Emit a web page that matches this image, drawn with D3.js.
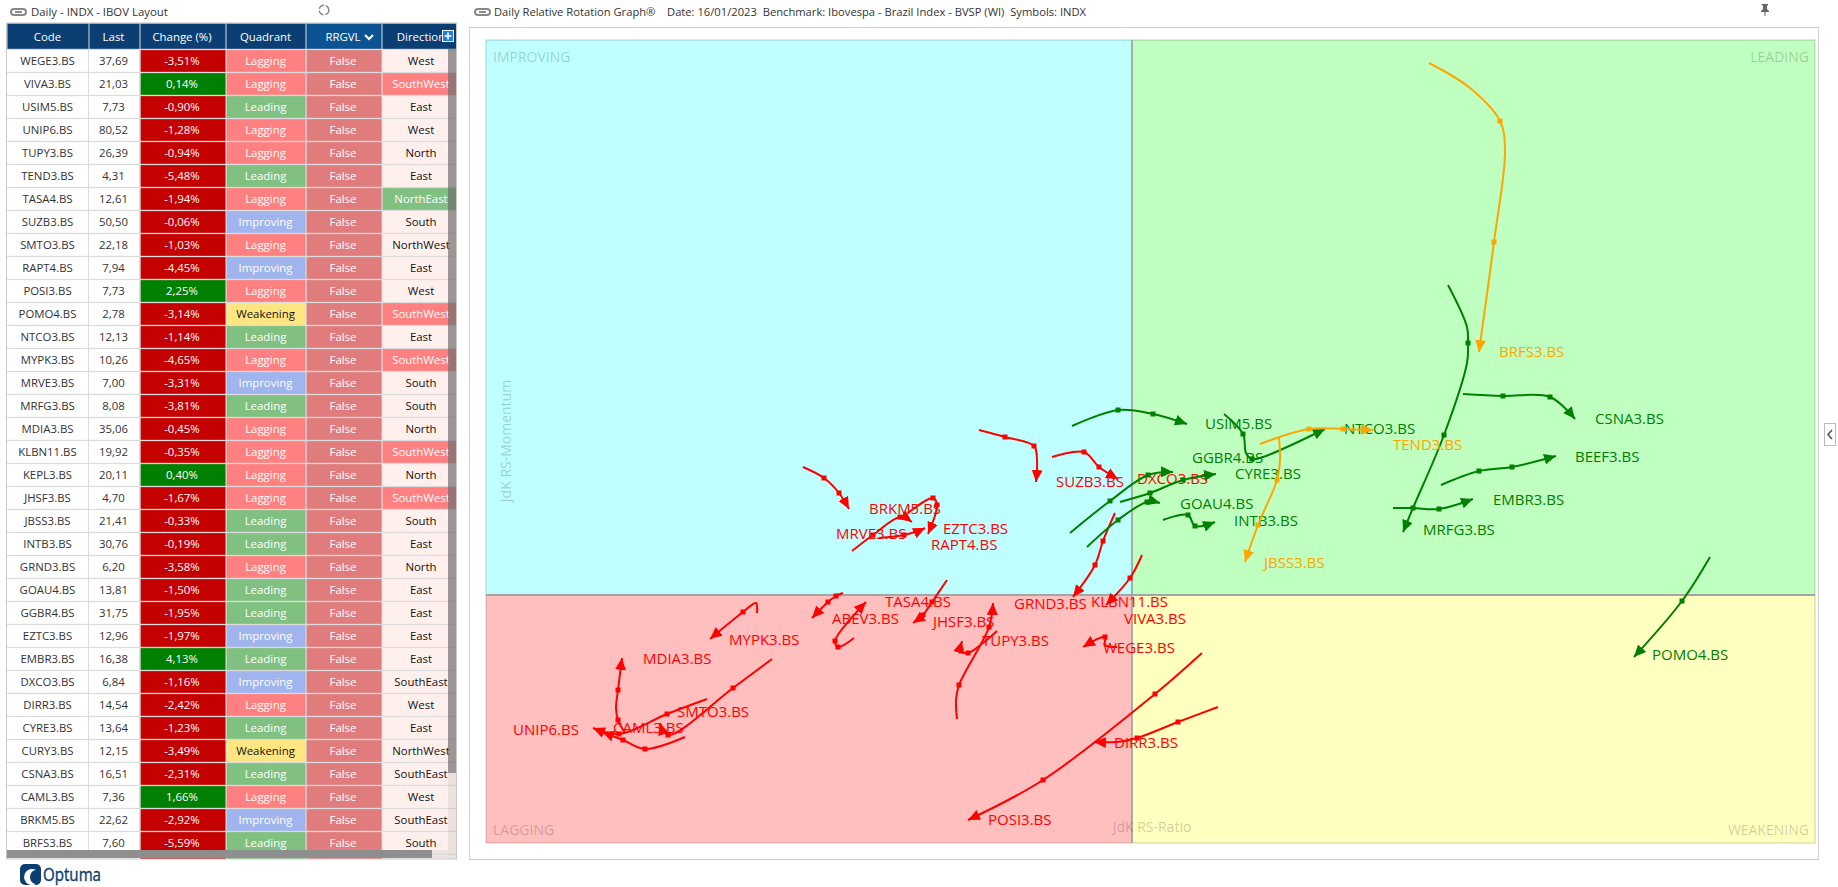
<!DOCTYPE html>
<html>
<head>
<meta charset="utf-8">
<title>Daily Relative Rotation Graph</title>
<script src="https://cdnjs.cloudflare.com/ajax/libs/d3/7.8.5/d3.min.js"></script>
<style>
  html, body { margin: 0; padding: 0; background: #fff; overflow: hidden; }
  svg { display: block; }
  text { font-family: "Open Sans", sans-serif; }
</style>
</head>
<body>
<div id="chart"></div>
<script>
// table columns
const columns = ["Code", "Last", "Change (%)", "Quadrant", "RRGVL", "Direction"];
const codes = ["WEGE3.BS", "VIVA3.BS", "USIM5.BS", "UNIP6.BS", "TUPY3.BS", "TEND3.BS", "TASA4.BS", "SUZB3.BS", "SMTO3.BS", "RAPT4.BS", "POSI3.BS", "POMO4.BS", "NTCO3.BS", "MYPK3.BS", "MRVE3.BS", "MRFG3.BS", "MDIA3.BS", "KLBN11.BS", "KEPL3.BS", "JHSF3.BS", "JBSS3.BS", "INTB3.BS", "GRND3.BS", "GOAU4.BS", "GGBR4.BS", "EZTC3.BS", "EMBR3.BS", "DXCO3.BS", "DIRR3.BS", "CYRE3.BS", "CURY3.BS", "CSNA3.BS", "CAML3.BS", "BRKM5.BS", "BRFS3.BS"];
const lasts = ["37,69", "21,03", "7,73", "80,52", "26,39", "4,31", "12,61", "50,50", "22,18", "7,94", "7,73", "2,78", "12,13", "10,26", "7,00", "8,08", "35,06", "19,92", "20,11", "4,70", "21,41", "30,76", "6,20", "13,81", "31,75", "12,96", "16,38", "6,84", "14,54", "13,64", "12,15", "16,51", "7,36", "22,62", "7,60"];
const changes = ["-3,51%", "0,14%", "-0,90%", "-1,28%", "-0,94%", "-5,48%", "-1,94%", "-0,06%", "-1,03%", "-4,45%", "2,25%", "-3,14%", "-1,14%", "-4,65%", "-3,31%", "-3,81%", "-0,45%", "-0,35%", "0,40%", "-1,67%", "-0,33%", "-0,19%", "-3,58%", "-1,50%", "-1,95%", "-1,97%", "4,13%", "-1,16%", "-2,42%", "-1,23%", "-3,49%", "-2,31%", "1,66%", "-2,92%", "-5,59%"];
const quadrants = ["Lagging", "Lagging", "Leading", "Lagging", "Lagging", "Leading", "Lagging", "Improving", "Lagging", "Improving", "Lagging", "Weakening", "Leading", "Lagging", "Improving", "Leading", "Lagging", "Lagging", "Lagging", "Lagging", "Leading", "Leading", "Lagging", "Leading", "Leading", "Improving", "Leading", "Improving", "Lagging", "Leading", "Weakening", "Leading", "Lagging", "Improving", "Leading"];
const directions = ["West", "SouthWest", "East", "West", "North", "East", "NorthEast", "South", "NorthWest", "East", "West", "SouthWest", "East", "SouthWest", "South", "South", "North", "SouthWest", "North", "SouthWest", "South", "East", "North", "East", "East", "East", "East", "SouthEast", "West", "East", "NorthWest", "SouthEast", "West", "SouthEast", "South"];

// rotation tails: [RS-Ratio, RS-Momentum, 1 when the point carries a marker]
const tailWEGE3 = [[99.85, 99.48], [99.73, 99.50], [99.73, 99.58, 1], [99.51, 99.48]];
const tailVIVA3 = [[100.10, 100.40], [99.98, 100.17, 1], [99.74, 99.90]];
const tailUSIM5 = [[99.40, 101.69], [99.86, 101.85, 1], [100.21, 101.81, 1], [100.55, 101.71]];
const tailUNIP6 = [[95.75, 98.96], [95.35, 98.81, 1], [94.87, 98.61, 1], [94.61, 98.67]];
const tailTUPY3 = [[98.65, 99.64], [98.51, 99.52], [98.36, 99.42, 1], [98.29, 99.44, 1], [98.30, 99.54]];
const tailTEND3 = [[101.28, 101.51], [101.77, 101.66, 1], [102.11, 101.66, 1], [102.41, 101.65]];
const tailTASA4 = [[97.22, 99.57], [97.06, 99.48, 1], [97.03, 99.54, 1], [97.34, 99.93]];
const tailSUZB3 = [[98.47, 101.65], [98.73, 101.58, 1], [99.02, 101.49, 1], [99.05, 101.35], [99.04, 101.13]];
const tailSMTO3 = [[96.40, 99.36], [96.01, 99.07, 1], [95.36, 98.60, 1], [95.28, 98.72]];
const tailRAPT4 = [[97.47, 100.57], [97.72, 100.60, 1], [97.86, 100.64, 1], [97.93, 100.67]];
const tailPOSI3 = [[100.70, 99.42], [100.23, 99.01, 1], [99.11, 98.15, 1], [98.36, 97.75]];
const tailPOMO4 = [[105.78, 100.38], [105.50, 99.94, 1], [105.02, 99.38]];
const tailNTCO3 = [[100.92, 101.81], [101.11, 101.61, 1], [101.14, 101.42], [101.20, 101.36, 1], [101.31, 101.38], [101.93, 101.66]];
const tailMYPK3 = [[96.25, 99.82], [96.24, 99.92], [96.11, 99.83, 1], [95.78, 99.56]];
const tailMRVE3 = [[96.71, 101.28], [96.92, 101.17, 1], [97.07, 101.02, 1], [97.17, 100.86]];
const tailMRFG3 = [[103.16, 103.10], [103.35, 102.68], [103.36, 102.52, 1], [103.35, 102.32], [103.12, 101.60, 1], [102.81, 100.87], [102.71, 100.63]];
const tailMDIA3 = [[94.93, 98.62], [94.86, 98.75, 1], [94.84, 98.87], [94.86, 99.05, 1], [94.90, 99.37]];
const tailKLBN11 = [[99.83, 100.82], [99.71, 100.54, 1], [99.63, 100.30, 1], [99.41, 99.98]];
const tailJHSF3 = [[98.15, 100.15], [98.00, 99.93, 1], [97.91, 99.80, 1], [97.81, 99.72]];
const tailJBSS3 = [[101.47, 101.57], [101.48, 101.35], [101.45, 101.15, 1], [101.26, 100.70, 1], [101.13, 100.33]];
const tailINTB3 = [[100.31, 100.75], [100.56, 100.80, 1], [100.63, 100.69, 1], [100.83, 100.73]];
const tailGRND3 = [[98.25, 98.76], [98.24, 98.95], [98.27, 99.10, 1], [98.57, 99.68, 1], [98.61, 99.92]];
const tailGOAU4 = [[99.55, 100.48], [99.86, 100.75, 1], [100.15, 100.93, 1], [100.28, 100.92]];
const tailGGBR4 = [[99.38, 100.62], [99.78, 100.94, 1], [100.16, 101.20, 1], [100.41, 101.23]];
const tailEZTC3 = [[97.76, 100.82], [98.01, 100.97, 1], [98.05, 100.90, 1], [97.96, 100.61]];
const tailEMBR3 = [[102.61, 100.87], [102.81, 100.87, 1], [103.07, 100.86, 1], [103.41, 100.96]];
const tailDXCO3 = [[99.20, 101.38], [99.52, 101.43, 1], [99.67, 101.28, 1], [99.86, 101.16]];
const tailDIRR3 = [[100.86, 98.88], [100.46, 98.73, 1], [100.05, 98.57, 1], [99.85, 98.53], [99.62, 98.53]];
const tailCYRE3 = [[99.88, 100.93], [100.18, 101.02, 1], [100.51, 101.15, 1], [100.84, 101.21]];
const tailCSNA3 = [[103.31, 102.01], [103.71, 101.99, 1], [104.18, 101.98, 1], [104.43, 101.76]];
const tailCAML3 = [[95.53, 98.58], [95.13, 98.46, 1], [94.91, 98.55, 1], [94.70, 98.63]];
const tailBRKM5 = [[97.20, 100.44], [97.41, 100.60, 1], [97.68, 100.78, 1], [97.80, 100.73]];
const tailBRFS3 = [[102.97, 105.32], [103.38, 105.07], [103.68, 104.74, 1], [103.73, 104.45], [103.62, 103.53, 1], [103.50, 102.65], [103.47, 102.43]];
const tailBEEF3 = [[103.09, 101.10], [103.47, 101.24, 1], [103.80, 101.28, 1], [104.24, 101.39]];
const tailABEV3 = [[97.11, 100.02], [97.04, 99.99, 1], [96.96, 99.93, 1], [96.80, 99.77]];

const redSymbols = [
  ["WEGE3.BS", tailWEGE3, 99.71, 99.48], ["VIVA3.BS", tailVIVA3, 99.92, 99.77], ["UNIP6.BS", tailUNIP6, 93.81, 98.66],
  ["TUPY3.BS", tailTUPY3, 98.50, 99.55], ["TASA4.BS", tailTASA4, 97.53, 99.94], ["SUZB3.BS", tailSUZB3, 99.24, 101.14],
  ["SMTO3.BS", tailSMTO3, 95.45, 98.84], ["RAPT4.BS", tailRAPT4, 97.99, 100.51], ["POSI3.BS", tailPOSI3, 98.56, 97.76],
  ["MYPK3.BS", tailMYPK3, 95.97, 99.56], ["MRVE3.BS", tailMRVE3, 97.04, 100.62], ["MDIA3.BS", tailMDIA3, 95.11, 99.37],
  ["KLBN11.BS", tailKLBN11, 99.59, 99.94], ["JHSF3.BS", tailJHSF3, 98.01, 99.74], ["GRND3.BS", tailGRND3, 98.82, 99.92],
  ["EZTC3.BS", tailEZTC3, 98.11, 100.67], ["DXCO3.BS", tailDXCO3, 100.05, 101.17], ["DIRR3.BS", tailDIRR3, 99.82, 98.53],
  ["CAML3.BS", tailCAML3, 94.81, 98.68], ["BRKM5.BS", tailBRKM5, 97.37, 100.87], ["ABEV3.BS", tailABEV3, 97.00, 99.77]
];
const greenSymbols = [
  ["USIM5.BS", tailUSIM5, 100.73, 101.72], ["POMO4.BS", tailPOMO4, 105.20, 99.41], ["NTCO3.BS", tailNTCO3, 102.12, 101.67],
  ["MRFG3.BS", tailMRFG3, 102.91, 100.66], ["INTB3.BS", tailINTB3, 101.02, 100.75], ["GOAU4.BS", tailGOAU4, 100.48, 100.92],
  ["GGBR4.BS", tailGGBR4, 100.60, 101.38], ["EMBR3.BS", tailEMBR3, 103.61, 100.96], ["CYRE3.BS", tailCYRE3, 101.03, 101.22],
  ["CSNA3.BS", tailCSNA3, 104.63, 101.77], ["BEEF3.BS", tailBEEF3, 104.43, 101.39]
];
const orangeSymbols = [
  ["TEND3.BS", tailTEND3, 102.61, 101.51], ["JBSS3.BS", tailJBSS3, 101.32, 100.33], ["BRFS3.BS", tailBRFS3, 103.67, 102.44]
];

const WIDTH = 1838;
const HEIGHT = 887;
const PLOT = { left: 486, right: 1815, top: 40, bottom: 843 };
const ROW_TOP = 49.33;
const ROW_H = 23;
const COL_EDGES = [7, 89, 140, 226, 306, 382, 460];
const COL_CENTERS = [47.5, 113.5, 182, 265.5, 343, 421];
const TABLE_FONT = 11.4;

const quadColor = { Lagging: "#ff8080", Leading: "#80c080", Improving: "#a0b4ee", Weakening: "#ffe680" };
const tailColor = { red: "#ff0000", green: "#008000", orange: "#ffa500" };

const svg = d3.select("#chart").append("svg").attr("width", WIDTH).attr("height", HEIGHT);

function chainIcon(g, x, y) {
  g.append("rect").attr("x", x).attr("y", y - 3).attr("width", 15).attr("height", 6).attr("rx", 3)
    .attr("fill", "none").attr("stroke", "#888").attr("stroke-width", 2);
  g.append("line").attr("x1", x + 4).attr("x2", x + 11).attr("y1", y).attr("y2", y).attr("stroke", "#666").attr("stroke-width", 1.5);
}

// ---- table on the left
const table = svg.append("g");
table.append("defs").append("clipPath").attr("id", "tableClip")
  .append("rect").attr("x", 7).attr("y", 23).attr("width", 449).attr("height", 836);

chainIcon(table, 11, 12);
table.append("text").attr("x", 31).attr("y", 16).attr("font-size", 11.4).attr("fill", "#333").text("Daily - INDX - IBOV Layout");

// refresh icon
table.append("circle").attr("cx", 324).attr("cy", 10).attr("r", 4.8)
  .attr("fill", "none").attr("stroke", "#888").attr("stroke-width", 1.4).attr("stroke-dasharray", "6 2");

const body = table.append("g").attr("clip-path", "url(#tableClip)");
body.append("rect").attr("x", 7).attr("y", 23).attr("width", 449).attr("height", 836).attr("fill", "#dcdcdc");

// header
columns.forEach((name, i) => {
  body.append("rect")
    .attr("x", COL_EDGES[i] + 0.5).attr("y", 23.5)
    .attr("width", COL_EDGES[i + 1] - COL_EDGES[i] - 1).attr("height", 25.3)
    .attr("fill", i === 4 ? "#0c5394" : "#0b3f73");
  body.append("text")
    .attr("x", COL_CENTERS[i]).attr("y", 41).attr("text-anchor", "middle")
    .attr("font-size", TABLE_FONT).attr("fill", "#fff").text(name);
});
body.append("path").attr("d", "M365,35 l4,4 l4,-4").attr("fill", "none").attr("stroke", "#fff").attr("stroke-width", 2);
body.append("rect").attr("x", 442.5).attr("y", 30.5).attr("width", 11).attr("height", 11).attr("fill", "#1f7fe0").attr("stroke", "#fff");
body.append("path").attr("d", "M448,32.5 v7 M444.5,36 h7").attr("stroke", "#fff").attr("stroke-width", 1.6);

function directionStyle(d) {
  if (d === "SouthWest") return { fill: "#ff8080", text: "#fff" };
  if (d === "NorthEast") return { fill: "#80c080", text: "#fff" };
  return { fill: "#fff0ee", text: "#111" };
}

const rows = body.selectAll(".row").data(codes).enter().append("g")
  .attr("class", "row")
  .attr("transform", (d, i) => `translate(0,${ROW_TOP + i * ROW_H})`);

rows.each(function (code, i) {
  const row = d3.select(this);
  const dir = directionStyle(directions[i]);
  const cells = [
    { text: code, fill: "#fff", color: "#333" },
    { text: lasts[i], fill: "#fff", color: "#333" },
    { text: changes[i], fill: changes[i].startsWith("-") ? "#c40000" : "#008000", color: "#fff" },
    { text: quadrants[i], fill: quadColor[quadrants[i]], color: quadrants[i] === "Weakening" ? "#111" : "#fff" },
    { text: "False", fill: "#e07c7c", color: "#fff" },
    { text: directions[i], fill: dir.fill, color: dir.text }
  ];
  cells.forEach((c, j) => {
    row.append("rect")
      .attr("x", COL_EDGES[j] + (j < 2 ? 0 : 0.7)).attr("y", 0.8)
      .attr("width", COL_EDGES[j + 1] - COL_EDGES[j] - (j < 2 ? 1 : 1.2)).attr("height", ROW_H - 1.3)
      .attr("fill", c.fill);
    row.append("text")
      .attr("x", COL_CENTERS[j]).attr("y", 16).attr("text-anchor", "middle")
      .attr("font-size", TABLE_FONT).attr("fill", c.color).text(c.text);
  });
});

// partly hidden row below the last one
[[226, "#c40000"], [306, "#80c080"], [382, "#e07c7c"], [460, "#fff0ee"]].forEach((c, i) => {
  body.append("rect").attr("x", COL_EDGES[i + 2] + 0.7).attr("y", 855)
    .attr("width", c[0] - COL_EDGES[i + 2] - 1.2).attr("height", 5).attr("fill", c[1]);
});
body.append("rect").attr("x", 7).attr("y", 855).attr("width", 133).attr("height", 5).attr("fill", "#fff");

// scrollbars
body.append("rect").attr("x", 448).attr("y", 49).attr("width", 8).attr("height", 810).attr("fill", "#999").attr("opacity", 0.18);
body.append("rect").attr("x", 448).attr("y", 49).attr("width", 8).attr("height", 724).attr("fill", "#666").attr("opacity", 0.6);
body.append("rect").attr("x", 7).attr("y", 850).attr("width", 441).attr("height", 8).attr("fill", "#ddd").attr("opacity", 0.7);
body.append("rect").attr("x", 7).attr("y", 850).attr("width", 425).attr("height", 8).attr("fill", "#8a8a8a").attr("opacity", 0.95);
table.append("rect").attr("x", 6.5).attr("y", 23).attr("width", 450).attr("height", 836)
  .attr("fill", "none").attr("stroke", "#c8c8c8");

// logo
const logo = svg.append("g");
logo.append("rect").attr("x", 20).attr("y", 864).attr("width", 21).attr("height", 21).attr("rx", 5).attr("fill", "#0b3f73");
logo.append("path").attr("d", "M36,870 A8,8 0 1 0 36,884 A6,7 0 1 1 36,870 z").attr("fill", "#fff");
logo.append("text").attr("x", 43).attr("y", 881).attr("font-size", 17.5)
  .attr("textLength", 58).attr("lengthAdjust", "spacingAndGlyphs").attr("fill", "#0b3f73").attr("stroke", "#0b3f73").attr("stroke-width", 0.4).text("Optuma");

// ---- rotation graph
chainIcon(svg, 475, 12);
svg.append("text").attr("x", 494).attr("y", 16).attr("font-size", 11.2).attr("fill", "#333").attr("xml:space", "preserve")
  .text("Daily Relative Rotation Graph®    Date: 16/01/2023  Benchmark: Ibovespa - Brazil Index - BVSP (WI)  Symbols: INDX");

// pin icon
svg.append("path").attr("d", "M1761,4 h7 v1 l-1,1 v3 l2,2 v1 h-3.5 v4 h-1 v-4 h-3.5 v-1 l2,-2 v-3 l-1,-1 z").attr("fill", "#666");

svg.append("rect").attr("x", 469.5).attr("y", 27.5).attr("width", 1349).attr("height", 832)
  .attr("fill", "#fff").attr("stroke", "#cfcfcf");

// side handle
svg.append("rect").attr("x", 1824.5).attr("y", 423.5).attr("width", 11).attr("height", 22).attr("fill", "#fff").attr("stroke", "#bbb");
svg.append("path").attr("d", "M1832,430 l-4,4.5 l4,4.5").attr("fill", "none").attr("stroke", "#555").attr("stroke-width", 1.6);

const x = d3.scaleLinear().domain([93.54, 106.83]).range([PLOT.left, PLOT.right]);
const y = d3.scaleLinear().domain([97.52, 105.55]).range([PLOT.bottom, PLOT.top]);

const plot = svg.append("g");
const quads = [
  { x0: 93.54, x1: 100, y0: 105.55, y1: 100, fill: "#bfffff" },
  { x0: 100, x1: 106.83, y0: 105.55, y1: 100, fill: "#bfffbf" },
  { x0: 93.54, x1: 100, y0: 100, y1: 97.52, fill: "#ffbfbf" },
  { x0: 100, x1: 106.83, y0: 100, y1: 97.52, fill: "#ffffbf" }
];
plot.selectAll(".quad").data(quads).enter().append("rect")
  .attr("x", d => x(d.x0)).attr("y", d => y(d.y0))
  .attr("width", d => x(d.x1) - x(d.x0)).attr("height", d => y(d.y1) - y(d.y0))
  .attr("fill", d => d.fill);
plot.append("rect").attr("x", x(93.54)).attr("y", y(105.55)).attr("width", x(106.83) - x(93.54)).attr("height", y(97.52) - y(105.55))
  .attr("fill", "none").attr("stroke", "#000").attr("stroke-opacity", 0.2);
plot.append("line").attr("x1", x(100)).attr("x2", x(100)).attr("y1", y(105.55)).attr("y2", y(97.52))
  .attr("stroke", "#a4a4a4").attr("stroke-width", 1.8);
plot.append("line").attr("x1", x(93.54)).attr("x2", x(106.83)).attr("y1", y(100)).attr("y2", y(100))
  .attr("stroke", "#a4a4a4").attr("stroke-width", 1.8);

const captionStyle = s => s.attr("font-size", 14).attr("fill", "#000").attr("fill-opacity", 0.2);
plot.append("text").attr("x", PLOT.left + 7).attr("y", 62).text("IMPROVING").call(captionStyle);
plot.append("text").attr("x", PLOT.right - 6).attr("y", 62).attr("text-anchor", "end").text("LEADING").call(captionStyle);
plot.append("text").attr("x", PLOT.left + 7).attr("y", 835).text("LAGGING").call(captionStyle);
plot.append("text").attr("x", PLOT.right - 6).attr("y", 835).attr("text-anchor", "end").text("WEAKENING").call(captionStyle);
plot.append("text").attr("x", 1152).attr("y", 832).attr("text-anchor", "middle").text("JdK RS-Ratio").call(captionStyle);
plot.append("text").attr("transform", "translate(511,441) rotate(-90)").attr("text-anchor", "middle").text("JdK RS-Momentum").call(captionStyle);

const defs = svg.append("defs");
Object.keys(tailColor).forEach(name => {
  defs.append("marker").attr("id", "arrow-" + name)
    .attr("markerUnits", "userSpaceOnUse").attr("markerWidth", 15).attr("markerHeight", 13)
    .attr("refX", 12).attr("refY", 5.5).attr("orient", "auto")
    .append("path").attr("d", "M0,0 L12,5.5 L0,11 z").attr("fill", tailColor[name]);
});

const line = d3.line().x(d => x(d[0])).y(d => y(d[1])).curve(d3.curveCatmullRom);

function drawTails(symbols, colorName) {
  const color = tailColor[colorName];
  const g = plot.append("g");
  g.selectAll(".tail").data(symbols).enter().append("path")
    .attr("d", d => line(d[1]))
    .attr("fill", "none").attr("stroke", color).attr("stroke-width", 2)
    .attr("marker-end", `url(#arrow-${colorName})`);
  const knots = symbols.flatMap(d => d[1].filter(p => p[2]));
  g.selectAll(".knot").data(knots).enter().append("rect")
    .attr("x", d => x(d[0]) - 2.5).attr("y", d => y(d[1]) - 2.5)
    .attr("width", 5).attr("height", 5).attr("fill", color);
  g.selectAll(".name").data(symbols).enter().append("text")
    .attr("x", d => x(d[2])).attr("y", d => y(d[3]) + 5.5)
    .attr("font-size", 15).attr("fill", color).text(d => d[0]);
}

drawTails(redSymbols, "red");
drawTails(greenSymbols, "green");
drawTails(orangeSymbols, "orange");
</script>
</body>
</html>
